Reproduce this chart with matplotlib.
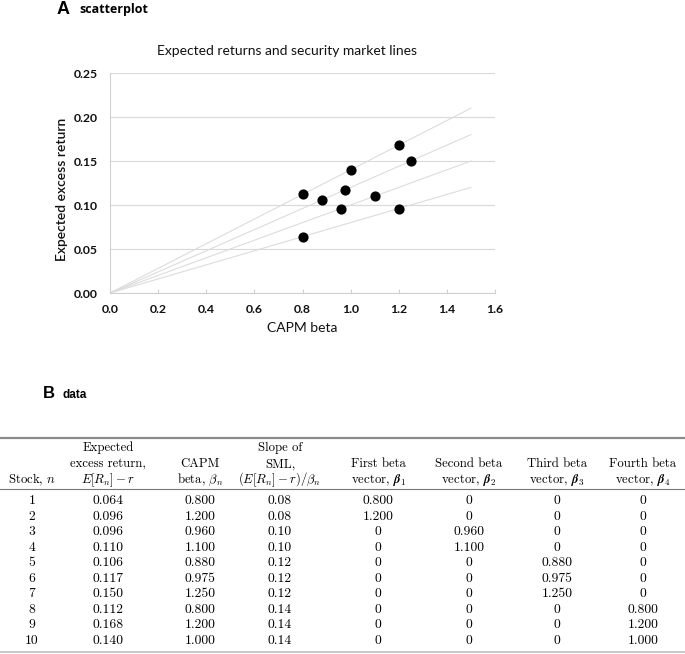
import matplotlib.pyplot as plt

plt.rcParams['mathtext.fontset'] = 'cm'

# data from the table
stocks = [1, 2, 3, 4, 5, 6, 7, 8, 9, 10]
excess_ret = [0.064, 0.096, 0.096, 0.110, 0.106, 0.117, 0.150, 0.112, 0.168, 0.140]
capm_beta = [0.800, 1.200, 0.960, 1.100, 0.880, 0.975, 1.250, 0.800, 1.200, 1.000]
sml_slope = [0.08, 0.08, 0.10, 0.10, 0.12, 0.12, 0.12, 0.14, 0.14, 0.14]
beta_group = [0, 0, 1, 1, 2, 2, 2, 3, 3, 3]   # which beta vector the stock belongs to
sml_lines = [0.08, 0.10, 0.12, 0.14]
sml_xmax = 1.5

W, H = 685, 654
fig = plt.figure(figsize=(W / 100, H / 100), dpi=100)


def px(x, y):
    return x / W, 1 - y / H


# ---- panel A
fig.text(*px(57, 9), "A", fontsize=13, fontweight='bold', family='Liberation Sans', va='center')
fig.text(*px(79, 9), "scatterplot", fontsize=9, fontweight='bold', family='Open Sans', va='center')

ax = fig.add_axes([110 / W, 1 - 293 / H, (495 - 110) / W, (293 - 73) / H])
for s in sml_lines:
    ax.plot([0, sml_xmax], [0, s * sml_xmax], color='#dcdcdc', lw=0.8, zorder=1)
ax.scatter(capm_beta, excess_ret, s=40, color='black', zorder=3)

ax.set_xlim(0, 1.6)
ax.set_ylim(0, 0.25)
ax.set_xticks([0, 0.2, 0.4, 0.6, 0.8, 1.0, 1.2, 1.4, 1.6])
ax.set_yticks([0, 0.05, 0.10, 0.15, 0.20, 0.25])
ax.set_xticklabels([f"{v:.1f}" for v in ax.get_xticks()])
ax.set_yticklabels([f"{v:.2f}" for v in ax.get_yticks()])
ax.grid(axis='y', color='#d9d9d9', lw=0.8)
ax.set_axisbelow(True)
for sp in ['top', 'right']:
    ax.spines[sp].set_visible(False)
for sp in ['left', 'bottom']:
    ax.spines[sp].set_color('#d0d0d0')
ax.tick_params(axis='x', direction='in', length=3, color='#d0d0d0', pad=8)
ax.tick_params(axis='y', length=0, pad=9)
for lab in ax.get_xticklabels() + ax.get_yticklabels():
    lab.set_family('Lato')
    lab.set_fontweight('bold')
    lab.set_fontsize(8.8)
    lab.set_color('#111111')

fig.text(*px(287, 51), "Expected returns and security market lines", fontsize=10,
         family='Lato', ha='center', va='center', color='#111111')
fig.text(*px(302, 328), "CAPM beta", fontsize=10, family='Lato', ha='center', va='center',
         color='#111111')
fig.text(*px(62, 189), "Expected excess return", fontsize=10, family='Lato', fontweight='semibold',
         rotation=90, ha='center', va='center', color='#111111')

# ---- panel B
fig.text(*px(43, 394), "B", fontsize=12, fontweight='bold', family='Liberation Sans', va='center')
fig.text(*px(62, 395), "data", fontsize=8.5, fontweight='bold', family='Liberation Sans', va='center')

col_x = [32, 108, 200, 280, 378, 469, 557, 643]
headers = [
    ["", "", "Stock, $n$"],
    ["Expected", "excess return,", "$E[R_n]-r$"],
    ["", "CAPM", r"beta, $\beta_n$"],
    ["Slope of", "SML,", r"$(E[R_n]-r)/\beta_n$"],
    ["", "First beta", r"vector, $\boldsymbol{\beta}_1$"],
    ["", "Second beta", r"vector, $\boldsymbol{\beta}_2$"],
    ["", "Third beta", r"vector, $\boldsymbol{\beta}_3$"],
    ["", "Fourth beta", r"vector, $\boldsymbol{\beta}_4$"],
]
head_y = [448, 464, 480]
for cx, lines in zip(col_x, headers):
    for hy, t in zip(head_y, lines):
        if t:
            fig.text(*px(cx, hy), t, fontsize=9.2, family='cmr10', ha='center', va='center')

line_kw = dict(transform=fig.transFigure, clip_on=False)
fig.add_artist(plt.Line2D([0, 1], [1 - 438 / H] * 2, color='#8a8a8a', lw=1.6, **line_kw))
fig.add_artist(plt.Line2D([0, 1], [1 - 489 / H] * 2, color='#777777', lw=0.8, **line_kw))
fig.add_artist(plt.Line2D([0, 1], [1 - 652 / H] * 2, color='#c8c8c8', lw=1.4, **line_kw))

for i, n in enumerate(stocks):
    y = 501 + 15.5 * i
    cells = [str(n), f"{excess_ret[i]:.3f}", f"{capm_beta[i]:.3f}", f"{sml_slope[i]:.2f}"]
    for g in range(4):
        cells.append(f"{capm_beta[i]:.3f}" if beta_group[i] == g else "0")
    for cx, t in zip(col_x, cells):
        fig.text(*px(cx, y), t, fontsize=9.8, family='cmr10', ha='center', va='center')

fig.savefig("out.png", dpi=100)
